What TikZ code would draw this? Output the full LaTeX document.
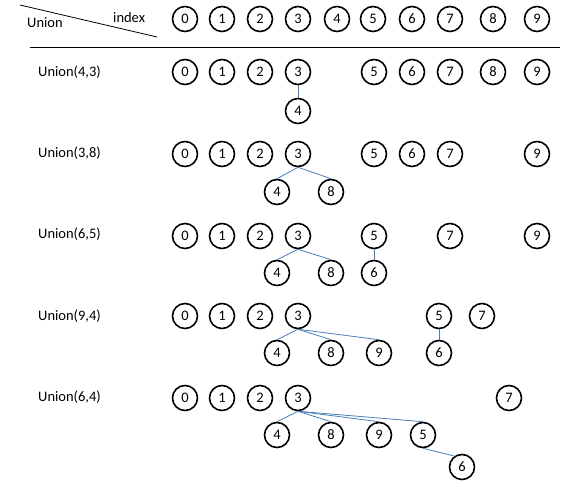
\documentclass[tikz,border=0pt]{standalone}
\usepackage{fontspec}
\setmainfont{Carlito}
\begin{document}
\begin{tikzpicture}[x=1pt,y=-1pt,
  cnode/.style={circle,draw=black,line width=1.6pt,minimum size=25pt,inner sep=0pt,font=\fontsize{14.5}{16}\selectfont},
  lbl/.style={anchor=west,inner sep=0pt,font=\fontsize{14.5}{16}\selectfont},
  edge/.style={draw=edgeblue,line width=0.8pt}]
\definecolor{edgeblue}{HTML}{4A7EBB}
\useasboundingbox (0,0) rectangle (571,487);
% header
\coordinate (dA) at (20,5);
\coordinate (dB) at (157,37);
\draw[line width=0.8pt] (dA) -- (dB);
\coordinate (hA) at (30,47.5);
\coordinate (hB) at (560,47.5);
\draw[line width=1pt] (hA) -- (hB);
\node[lbl] (hunion) at (27,23) {Union};
\node[lbl] (hindex) at (113,18) {index};
\foreach \i/\x in {0/185,1/222,2/260,3/298,4/337,5/373,6/412,7/450,8/493,9/537}
  \node[cnode] (h\i) at (\x,19) {\i};
% row 1: Union(4,3)
\node[lbl] (l1) at (38,72) {Union(4,3)};
\foreach \i/\x in {0/185,1/222,2/260,3/298,5/374,6/412,7/450,8/493,9/537}
  \node[cnode] (a\i) at (\x,72) {\i};
\node[cnode] (a4) at (298,111) {4};
\draw[edge] (a3.south) -- (a4.north);
% row 2: Union(3,8)
\node[lbl] (l2) at (38,153) {Union(3,8)};
\foreach \i/\x in {0/185,1/222,2/260,3/298,5/374,6/412,7/450,9/537}
  \node[cnode] (b\i) at (\x,154) {\i};
\node[cnode] (b4) at (277,192) {4};
\node[cnode] (b8) at (331,192) {8};
\draw[edge] (b3.south) -- (b4.north);
\draw[edge] (b3.south) -- (b8.north);
% row 3: Union(6,5)
\node[lbl] (l3) at (38,234) {Union(6,5)};
\foreach \i/\x in {0/185,1/222,2/260,3/298,5/374,7/450,9/537}
  \node[cnode] (c\i) at (\x,236) {\i};
\node[cnode] (c4) at (277,273) {4};
\node[cnode] (c8) at (331,273) {8};
\node[cnode] (c6) at (374,273) {6};
\draw[edge] (c3.south) -- (c4.north);
\draw[edge] (c3.south) -- (c8.north);
\draw[edge] (c5.south) -- (c6.north);
% row 4: Union(9,4)
\node[lbl] (l4) at (38,316) {Union(9,4)};
\foreach \i/\x in {0/185,1/222,2/260,3/298,5/439,7/482}
  \node[cnode] (d\i) at (\x,316) {\i};
\node[cnode] (d4) at (277,353) {4};
\node[cnode] (d8) at (331,353) {8};
\node[cnode] (d9) at (379,353) {9};
\node[cnode] (d6) at (439,353) {6};
\draw[edge] (d3.south) -- (d4.north);
\draw[edge] (d3.south) -- (d8.north);
\draw[edge] (d3.south) -- (d9.north);
\draw[edge] (d5.south) -- (d6.north);
% row 5: Union(6,4)
\node[lbl] (l5) at (38,397) {Union(6,4)};
\foreach \i/\x in {0/185,1/222,2/260,3/298,7/509}
  \node[cnode] (e\i) at (\x,398) {\i};
\node[cnode] (e4) at (277,435) {4};
\node[cnode] (e8) at (331,435) {8};
\node[cnode] (e9) at (379,435) {9};
\node[cnode] (e5) at (423,435) {5};
\node[cnode] (e6) at (462,467) {6};
\draw[edge] (e3.south) -- (e4.north);
\draw[edge] (e3.south) -- (e8.north);
\draw[edge] (e3.south) -- (e9.north);
\draw[edge] (e3.south) -- (e5.north);
\draw[edge] (e5.south) -- (e6.125);
\end{tikzpicture}
\end{document}
